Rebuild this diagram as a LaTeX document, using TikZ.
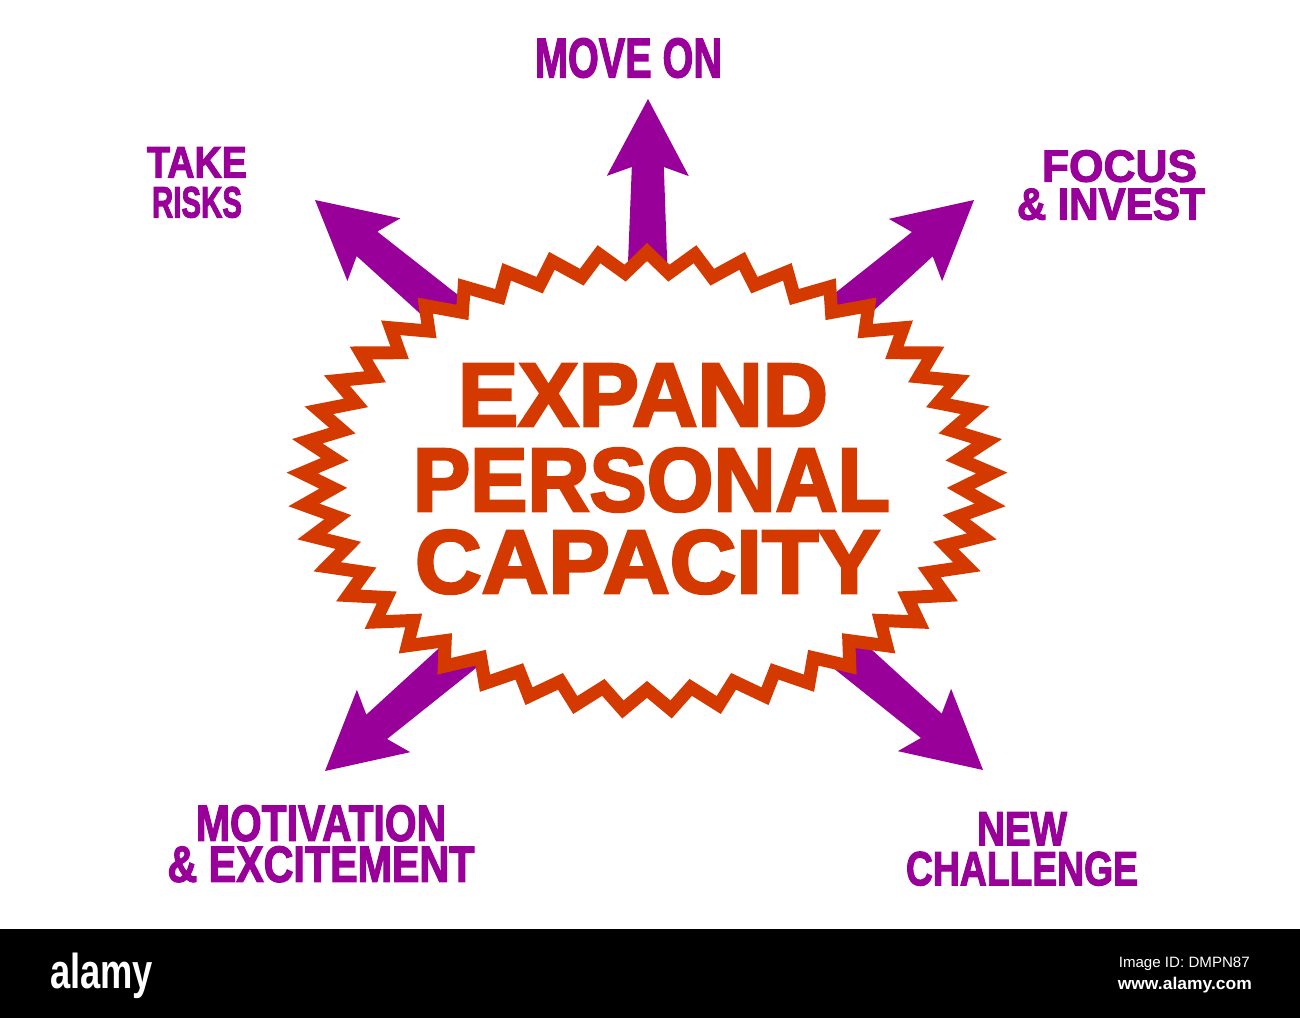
\documentclass[tikz,border=0pt]{standalone}
\usepackage{fontspec}
\setmainfont{Liberation Sans}
\newfontfamily\heavyfont[FakeBold=3]{Liberation Sans Bold}
\newfontfamily\lblfont[FakeBold=2.5]{Liberation Sans Bold}
\usetikzlibrary{calc}
\definecolor{burst}{RGB}{212,58,0}
\definecolor{vio}{RGB}{153,0,153}
\newcommand\fitw[2]{\resizebox{#1pt}{\height}{#2}}
\newcommand\fatarrow[2]{%
  \fill[vio] (#1)
    -- ($(#1)!77pt!(#2)!41pt!90:(#2)$)
    -- ($(#1)!68pt!(#2)!16pt!90:(#2)$)
    -- ($(#2)!21pt!-90:(#1)$)
    -- ($(#2)!21pt!90:(#1)$)
    -- ($(#1)!68pt!(#2)!16pt!-90:(#2)$)
    -- ($(#1)!77pt!(#2)!41pt!-90:(#2)$)
    -- cycle;}
\begin{document}
\begin{tikzpicture}[x=1pt,y=-1pt,
  lbl/.style={text=vio, inner sep=0pt, align=center, font=\fontsize{#1}{40}\selectfont\lblfont},
  mainline/.style={text=burst, inner sep=0pt, anchor=base, font=\fontsize{#1}{#1}\selectfont\heavyfont},
  foot/.style={text=white, inner sep=0pt}]
\useasboundingbox (0,0) rectangle (1300,1018);
\fill[white] (0,0) rectangle (1300,1018);
% arrow tips and bases
\coordinate (tTop) at (648,99);   \coordinate (bTop) at (647.5,300);
\coordinate (tTL) at (315,200);   \coordinate (bTL) at (475,335);
\coordinate (tTR) at (974,200);   \coordinate (bTR) at (816,335);
\coordinate (tBL) at (325,771);   \coordinate (bBL) at (490,630);
\coordinate (tBR) at (983,770);   \coordinate (bBR) at (818,629);
\fatarrow{tTop}{bTop}
\fatarrow{tTL}{bTL}
\fatarrow{tTR}{bTR}
\fatarrow{tBL}{bBL}
\fatarrow{tBR}{bBR}
% starburst
\draw[burst, line width=13pt, fill=white, line join=miter, miter limit=10]
  plot[samples=90, domain=0:89, variable=\k]
  ({647+345*(1-0.09*mod(round(\k),2))*cos(90+4*\k)},
   {481-229*(1-0.09*mod(round(\k),2))*sin(90+4*\k)}) -- cycle;
% central text
\node[mainline=90] (l1) at (643,426) {\fitw{370}{EXPAND}};
\node[mainline=90] (l2) at (651.5,511) {\fitw{477}{PERSONAL}};
\node[mainline=90] (l3) at (647.5,593) {\fitw{465}{CAPACITY}};
% labels
\node[lbl=56, anchor=north] (moveon) at (628.5,38) {\fitw{187}{MOVE ON}};
\node[lbl=44, anchor=north] (takerisks) at (197,147) {\fitw{100}{TAKE}\\[0pt]\fitw{90}{RISKS}};
\node[lbl=45, anchor=north] (focus) at (1111,150) {\hspace*{17pt}\fitw{155}{FOCUS}\\[-2pt]\fitw{188}{\& INVEST}};
\node[lbl=51, anchor=north] (motiv) at (321,805) {\fitw{250}{MOTIVATION}\\[1pt]\fitw{307}{\& EXCITEMENT}};
\node[lbl=48, anchor=north] (newch) at (1022,812) {\fitw{90}{NEW}\\[0pt]\fitw{232}{CHALLENGE}};
% footer bar
\fill[black] (0,929) rectangle (1300,1018);
\node[foot, anchor=base west, font=\fontsize{49}{49}\selectfont\bfseries] (alamy) at (50,988) {\fitw{103}{alamy}};
\node[foot, anchor=base east, font=\fontsize{15}{15}\selectfont] (imgid) at (1250,967) {\fitw{131}{Image ID: DMPN87}};
\node[foot, anchor=base east, font=\fontsize{17}{17}\selectfont\bfseries] (www) at (1252,989) {\fitw{134}{www.alamy.com}};
\end{tikzpicture}
\end{document}
